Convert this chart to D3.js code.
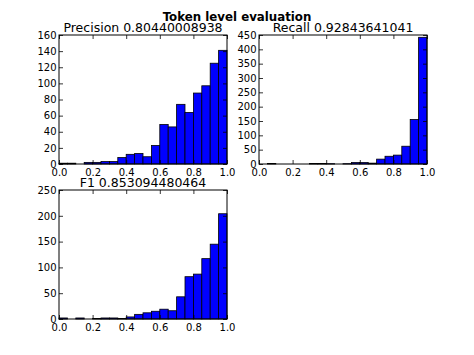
<!DOCTYPE html>
<html>
<head>
<meta charset="utf-8">
<script src="https://cdn.jsdelivr.net/npm/d3@7/dist/d3.min.js"></script>
<style>
  html, body { margin: 0; padding: 0; background: #fff; }
  svg { display: block; }
  text { font-family: "DejaVu Sans", sans-serif; fill: #000; }
</style>
</head>
<body>
<script>
// ---- data ----
const binEdges = d3.range(0, 21).map(i => i / 20);
const precisionCounts = [1, 1, 0, 2, 2, 3, 3, 8, 12, 13, 9, 23, 49, 46, 74, 64, 88, 97, 125, 141];
const recallCounts    = [0, 2, 0, 0, 0, 0, 2, 2, 1, 0, 1, 5, 5, 3, 17, 27, 31, 62, 155, 442];
const f1Counts        = [2, 0, 2, 0, 1, 2, 2, 1, 4, 9, 12, 15, 19, 16, 43, 82, 87, 117, 145, 204];
const xTicks = [0, 0.2, 0.4, 0.6, 0.8, 1.0];
const precisionYTicks = [0, 20, 40, 60, 80, 100, 120, 140, 160];
const recallYTicks = [0, 50, 100, 150, 200, 250, 300, 350, 400, 450];
const f1YTicks = [0, 50, 100, 150, 200, 250];
const titles = ["Precision 0.80440008938", "Recall 0.92843641041", "F1 0.853094480464"];
const suptitle = "Token level evaluation";

const W = 474, H = 355;
const svg = d3.select("body").append("svg").attr("width", W).attr("height", H);

const panels = [
  { counts: precisionCounts, yTicks: precisionYTicks, title: titles[0], x0: 59, x1: 227, y0: 35, y1: 164 },
  { counts: recallCounts, yTicks: recallYTicks, title: titles[1], x0: 259, x1: 427, y0: 35, y1: 164 },
  { counts: f1Counts, yTicks: f1YTicks, title: titles[2], x0: 59, x1: 227, y0: 190, y1: 319 }
];

panels.forEach(p => {
  const x = d3.scaleLinear().domain([0, 1]).range([p.x0, p.x1]);
  const y = d3.scaleLinear().domain([0, d3.max(p.yTicks)]).range([p.y1, p.y0]);
  const g = svg.append("g");

  const bins = p.counts.map((c, i) => ({ a: binEdges[i], b: binEdges[i + 1], c }));
  g.selectAll("rect.bar").data(bins).enter().append("rect")
    .attr("class", "bar")
    .attr("x", d => x(d.a))
    .attr("width", d => x(d.b) - x(d.a))
    .attr("y", d => y(d.c))
    .attr("height", d => y(0) - y(d.c))
    .attr("fill", "#0000ff")
    .attr("stroke", "#000")
    .attr("stroke-width", 0.8);

  const tick = 4;
  const bottom = d3.axisBottom(x).tickValues(xTicks).tickFormat(d3.format(".1f")).tickSizeInner(-tick).tickSizeOuter(0).tickPadding(5);
  const top = d3.axisTop(x).tickValues(xTicks).tickFormat("").tickSizeInner(-tick).tickSizeOuter(0);
  const left = d3.axisLeft(y).tickValues(p.yTicks).tickFormat(d3.format("d")).tickSizeInner(-tick).tickSizeOuter(0).tickPadding(2.5);
  const right = d3.axisRight(y).tickValues(p.yTicks).tickFormat("").tickSizeInner(-tick).tickSizeOuter(0);

  const styleAxis = sel => {
    sel.select(".domain").remove();
    sel.selectAll("line").attr("stroke", "#000").attr("stroke-width", 0.8);
    sel.selectAll("text").style("font-family", "DejaVu Sans, sans-serif").style("font-size", "10px").attr("fill", "#000");
  };
  g.append("g").attr("transform", `translate(0,${p.y1})`).call(bottom).call(styleAxis);
  g.append("g").attr("transform", `translate(0,${p.y0})`).call(top).call(styleAxis);
  g.append("g").attr("transform", `translate(${p.x0},0)`).call(left).call(styleAxis);
  g.append("g").attr("transform", `translate(${p.x1},0)`).call(right).call(styleAxis);

  g.append("rect")
    .attr("x", p.x0).attr("y", p.y0)
    .attr("width", p.x1 - p.x0).attr("height", p.y1 - p.y0)
    .attr("fill", "none").attr("stroke", "#000").attr("stroke-width", 1);

  g.append("text")
    .attr("x", (p.x0 + p.x1) / 2).attr("y", p.y0 - 3.5)
    .attr("text-anchor", "middle")
    .style("font-size", "12.5px")
    .text(p.title);
});

svg.append("text")
  .attr("x", 237).attr("y", 21)
  .attr("text-anchor", "middle")
  .style("font-size", "11.8px").style("font-weight", "bold")
  .text(suptitle);
</script>
</body>
</html>
